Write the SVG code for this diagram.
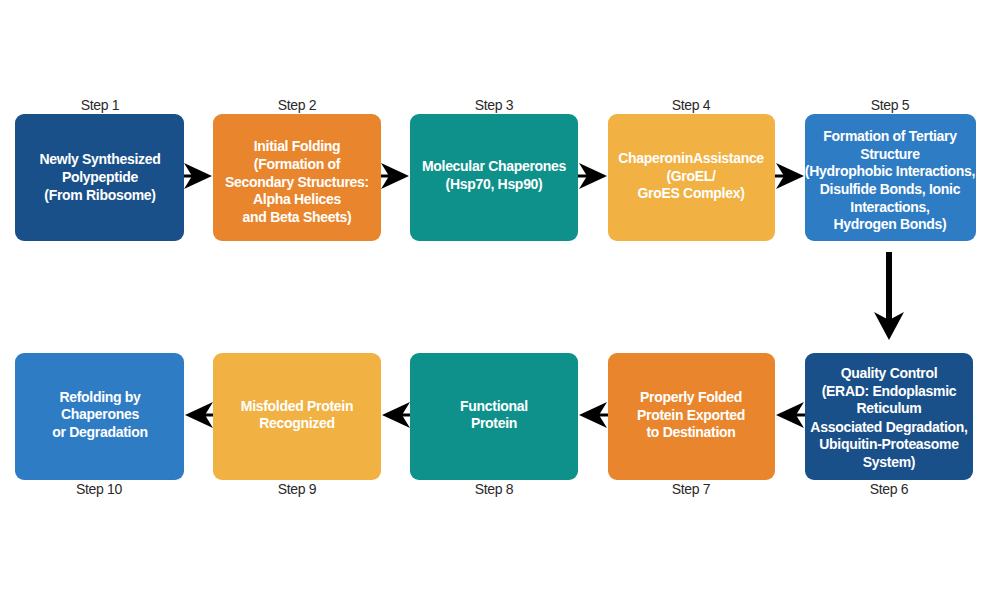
<svg xmlns="http://www.w3.org/2000/svg" width="992" height="595" viewBox="0 0 992 595">
<style>
.box{stroke:none}
.c1{fill:#1a5089}.c2{fill:#e9862d}.c3{fill:#0e918b}.c4{fill:#f1b143}.c5{fill:#2e7cc4}
.t{font-family:"Liberation Sans",Arial,sans-serif;font-weight:bold;font-size:14px;letter-spacing:-0.3px;fill:#ffffff;text-anchor:middle}
.s{font-family:"Liberation Sans",Arial,sans-serif;font-size:14px;letter-spacing:-0.3px;fill:#2a2a2a;text-anchor:middle}
.conn{stroke:#000;stroke-width:3;fill:none;marker-end:url(#ah)}
.vconn{stroke:#000;stroke-width:6;fill:none;marker-end:url(#ahv)}
</style>
<defs>
<marker id="ah" viewBox="0 0 28 26" refX="8" refY="13" markerWidth="28" markerHeight="26" markerUnits="userSpaceOnUse" orient="auto">
<path d="M0,0 L28,13 L0,26 L8,13 Z" fill="#000"/>
</marker>
<marker id="ahv" viewBox="0 0 28 30" refX="8" refY="15" markerWidth="28" markerHeight="30" markerUnits="userSpaceOnUse" orient="auto">
<path d="M0,0 L28,15 L0,30 L8,15 Z" fill="#000"/>
</marker>
</defs>
<rect width="992" height="595" fill="#ffffff"/>

<g id="connectors">
<line class="conn" x1="184" y1="176" x2="192" y2="176"/>
<line class="conn" x1="381" y1="176" x2="389" y2="176"/>
<line class="conn" x1="578" y1="176" x2="587" y2="176"/>
<line class="conn" x1="775" y1="176" x2="784" y2="176"/>
<line class="vconn" x1="889" y1="252" x2="889" y2="320"/>
<line class="conn" x1="805" y1="415" x2="796" y2="415"/>
<line class="conn" x1="608" y1="415" x2="599" y2="415"/>
<line class="conn" x1="410" y1="415" x2="402" y2="415"/>
<line class="conn" x1="213" y1="415" x2="205" y2="415"/>
</g>

<g id="step1">
<text class="s" x="100" y="110">Step 1</text>
<rect class="box c1" x="15" y="114" width="169" height="127" rx="9"/>
<text class="t"><tspan x="100" y="164">Newly Synthesized</tspan><tspan x="100" y="182">Polypeptide</tspan><tspan x="100" y="200">(From Ribosome)</tspan></text>
</g>

<g id="step2">
<text class="s" x="297" y="110">Step 2</text>
<rect class="box c2" x="213" y="114" width="168" height="127" rx="9"/>
<text class="t"><tspan x="297" y="151">Initial Folding</tspan><tspan x="297" y="169">(Formation of</tspan><tspan x="297" y="186.5">Secondary Structures:</tspan><tspan x="297" y="204">Alpha Helices</tspan><tspan x="297" y="222">and Beta Sheets)</tspan></text>
</g>

<g id="step3">
<text class="s" x="494" y="110">Step 3</text>
<rect class="box c3" x="410" y="114" width="168" height="127" rx="9"/>
<text class="t"><tspan x="494" y="171">Molecular Chaperones</tspan><tspan x="494" y="188.5">(Hsp70, Hsp90)</tspan></text>
</g>

<g id="step4">
<text class="s" x="691" y="110">Step 4</text>
<rect class="box c4" x="608" y="114" width="167" height="127" rx="9"/>
<text class="t"><tspan x="691" y="163">ChaperoninAssistance</tspan><tspan x="691" y="180.5">(GroEL/</tspan><tspan x="691" y="197.5">GroES Complex)</tspan></text>
</g>

<g id="step5">
<text class="s" x="890" y="110">Step 5</text>
<rect class="box c5" x="805" y="114" width="171" height="127" rx="9"/>
<text class="t"><tspan x="890" y="141">Formation of Tertiary</tspan><tspan x="890" y="158.5">Structure</tspan><tspan x="890" y="176">(Hydrophobic Interactions,</tspan><tspan x="890" y="194">Disulfide Bonds, Ionic</tspan><tspan x="890" y="211.5">Interactions,</tspan><tspan x="890" y="229">Hydrogen Bonds)</tspan></text>
</g>

<g id="step6">
<rect class="box c1" x="805" y="353" width="168" height="127" rx="9"/>
<text class="t"><tspan x="889" y="378">Quality Control</tspan><tspan x="889" y="396">(ERAD: Endoplasmic</tspan><tspan x="889" y="413">Reticulum</tspan><tspan x="889" y="431.5">Associated Degradation,</tspan><tspan x="889" y="448.5">Ubiquitin-Proteasome</tspan><tspan x="889" y="466.5">System)</tspan></text>
<text class="s" x="889" y="494">Step 6</text>
</g>

<g id="step7">
<rect class="box c2" x="608" y="353" width="167" height="127" rx="9"/>
<text class="t"><tspan x="691" y="402">Properly Folded</tspan><tspan x="691" y="420">Protein Exported</tspan><tspan x="691" y="437">to Destination</tspan></text>
<text class="s" x="691" y="494">Step 7</text>
</g>

<g id="step8">
<rect class="box c3" x="410" y="353" width="168" height="127" rx="9"/>
<text class="t"><tspan x="494" y="411">Functional</tspan><tspan x="494" y="428">Protein</tspan></text>
<text class="s" x="494" y="494">Step 8</text>
</g>

<g id="step9">
<rect class="box c4" x="213" y="353" width="168" height="127" rx="9"/>
<text class="t"><tspan x="297" y="411">Misfolded Protein</tspan><tspan x="297" y="428">Recognized</tspan></text>
<text class="s" x="297" y="494">Step 9</text>
</g>

<g id="step10">
<rect class="box c5" x="15" y="353" width="169" height="127" rx="9"/>
<text class="t"><tspan x="100" y="402">Refolding by</tspan><tspan x="100" y="419">Chaperones</tspan><tspan x="100" y="437">or Degradation</tspan></text>
<text class="s" x="99" y="494">Step 10</text>
</g>
</svg>
